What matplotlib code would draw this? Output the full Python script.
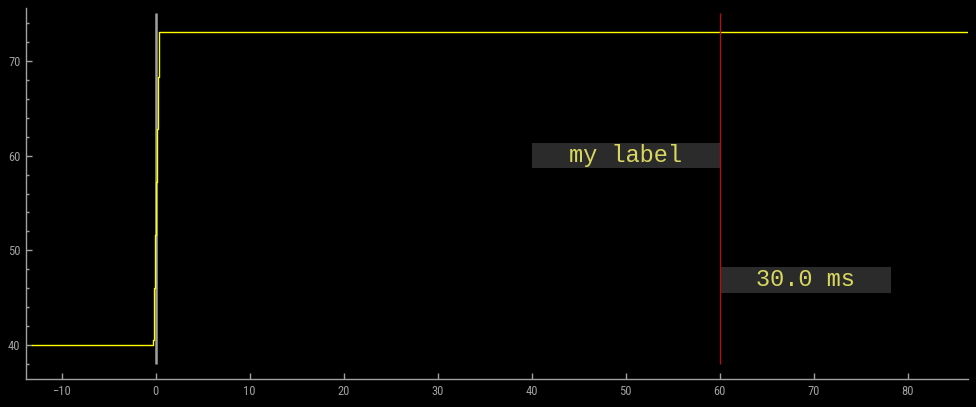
import matplotlib
matplotlib.use("Agg")
import matplotlib.pyplot as plt
from matplotlib import font_manager
from matplotlib.patches import Rectangle
from matplotlib.ticker import MultipleLocator

# step response trace (time in ms, value)
trace_t = [-13.2, -0.25, -0.2, -0.1, 0.0, 0.1, 0.25, 0.35, 86.3]
trace_v = [40.0, 40.6, 46.0, 51.6, 57.2, 62.8, 68.3, 73.0, 73.0]

# vertical markers: trigger at 0, cursor at 60
trigger_t = 0.0
cursor_t = 60.0
marker_span = (38.0, 75.0)

# cursor labels: text, y position, side of the cursor
label_texts = ["my label", "30.0 ms"]
label_y = [60.0, 46.9]
label_side = ["left", "right"]
label_width = [20.0, 18.2]   # box width in ms
label_height = 2.7           # box height in value units

xticks = [-10, 0, 10, 20, 30, 40, 50, 60, 70, 80]
yticks = [40, 50, 60, 70]


def pick_font(names):
    for n in names:
        try:
            font_manager.findfont(n, fallback_to_default=False)
            return n
        except Exception:
            pass
    return "DejaVu Sans"


tick_font = pick_font(["Liberation Sans Narrow", "Roboto Condensed", "DejaVu Sans"])
mono_font = pick_font(["Liberation Mono", "DejaVu Sans Mono"])

grey = "#a0a0a0"
fig = plt.figure(figsize=(9.76, 4.07), dpi=100, facecolor="black")
ax = fig.add_axes([0.0266, 0.0688, 0.9652, 0.9115], facecolor="black")

ax.plot(trace_t, trace_v, color="#ffff00", lw=1.0, drawstyle="steps-post", zorder=3)
ax.vlines(trigger_t, *marker_span, color=grey, lw=1.8, zorder=2)
ax.vlines(cursor_t, *marker_span, color="#b01010", lw=1.0, zorder=4)

for txt, y, side, w in zip(label_texts, label_y, label_side, label_width):
    x0 = cursor_t - w if side == "left" else cursor_t
    ax.add_patch(Rectangle((x0, y - label_height / 2), w, label_height,
                           facecolor="#2b2b2b", edgecolor="none", zorder=3))
    ax.text(x0 + w / 2, y, txt, ha="center", va="center", color="#d8d860",
            fontsize=17, family=mono_font, zorder=5)

ax.set_xlim(-13.8, 86.4)
ax.set_ylim(36.45, 75.55)
ax.set_xticks(xticks)
ax.set_yticks(yticks)
ax.yaxis.set_minor_locator(MultipleLocator(2))

for s in ["top", "right"]:
    ax.spines[s].set_visible(False)
for s in ["left", "bottom"]:
    ax.spines[s].set_color(grey)
    ax.spines[s].set_linewidth(1.0)

ax.tick_params(which="major", direction="in", length=4, width=1, color=grey,
               labelcolor=grey, labelsize=9, pad=4)
ax.tick_params(which="minor", direction="in", length=2, width=1, color=grey)
for lab in ax.get_xticklabels() + ax.get_yticklabels():
    lab.set_family(tick_font)

fig.savefig("out.png", dpi=100, facecolor="black")
